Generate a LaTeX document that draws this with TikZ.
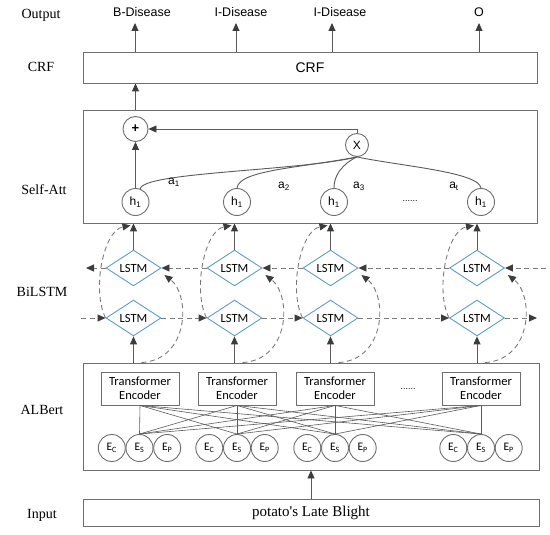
\documentclass[tikz,border=0pt]{standalone}
\usepackage{fontspec}
\setmainfont{Liberation Serif}
\newfontfamily\carl{Carlito}
\newfontfamily\lsans{Liberation Sans}
\newfontfamily\pserif{Liberation Serif}
\usetikzlibrary{arrows.meta,shapes.geometric,calc}
\definecolor{boxgray}{HTML}{6E6E6E}
\definecolor{linegray}{HTML}{5A5A5A}
\definecolor{tipgray}{HTML}{3C3C3C}
\definecolor{dashgray}{HTML}{7A7A7A}
\definecolor{lstmblue}{HTML}{5B9BD5}
\begin{document}
\begin{tikzpicture}[x=1pt,y=-1pt,
  box/.style={draw=boxgray, line width=0.9pt, inner sep=0pt},
  lbl/.style={font=\fontsize{14}{14}\selectfont, inner sep=0pt},
  outl/.style={font=\lsans\fontsize{12.5}{12.5}\selectfont, inner sep=0pt},
  arr/.style={draw=linegray, line width=0.9pt, -{Triangle[length=8pt,width=7pt,color=tipgray]}},
  lstm/.style={diamond, draw=lstmblue, line width=0.9pt, minimum width=55pt, minimum height=33pt, inner sep=0pt, font=\carl\fontsize{12.5}{12.5}\selectfont},
  hcirc/.style={circle, draw=boxgray, line width=0.9pt, minimum size=27pt, inner sep=0pt, font=\lsans\fontsize{12}{12}\selectfont},
  ecirc/.style={circle, draw=boxgray, line width=0.9pt, minimum size=27pt, inner sep=0pt, font=\carl\fontsize{11.5}{11.5}\selectfont},
  tebox/.style={box, minimum width=78pt, minimum height=33pt, align=center, font=\carl\fontsize{12.5}{14}\selectfont},
  dsh/.style={draw=dashgray, line width=0.9pt, dash pattern=on 5pt off 3.5pt, -{Triangle[length=8pt,width=7pt,color=tipgray]}},
  mesh/.style={draw=linegray, line width=0.6pt},
  acurve/.style={draw=linegray, line width=0.9pt},
  alab/.style={font=\lsans\fontsize{12}{12}\selectfont, inner sep=0pt},
  dotsl/.style={font=\lsans\fontsize{9}{9}\selectfont, inner sep=0pt}
]
\useasboundingbox (0,0) rectangle (550,535);

% left labels
\node[lbl] (lOut) at (41,15) {Output};
\node[lbl] (lCrf) at (41,67) {CRF};
\node[lbl] (lSa) at (44,190) {Self-Att};
\node[lbl] (lBi) at (42,292) {BiLSTM};
\node[lbl] (lAl) at (42,410) {ALBert};
\node[lbl] (lIn) at (42,515) {Input};

% outputs and CRF
\node[box, minimum width=454pt, minimum height=31pt, font=\lsans\fontsize{14}{14}\selectfont] (crf) at (310,67.5) {CRF};
\node[outl] (o1) at (142,12) {B-Disease};
\node[outl] (o2) at (241,12) {I-Disease};
\node[outl] (o3) at (340,12) {I-Disease};
\node[outl] (o4) at (479,12) {O};
\coordinate (t1) at (135,23);
\coordinate (t2) at (236,23);
\coordinate (t3) at (332,23);
\coordinate (t4) at (479,23);
\foreach \i in {1,...,4} { \draw[arr] (crf.north -| t\i) -- (t\i); }

% self attention
\node[box, minimum width=454pt, minimum height=113pt] (sa) at (310,166.5) {};
\node[hcirc, minimum size=25pt, font=\lsans\bfseries\fontsize{13}{13}\selectfont] (plus) at (135.5,129) {+};
\node[hcirc, minimum size=23pt] (xx) at (357,145) {X};
\node[hcirc] (h1) at (135.5,202) {h\textsubscript{1}};
\node[hcirc] (h2) at (237,202) {h\textsubscript{1}};
\node[hcirc] (h3) at (334,202) {h\textsubscript{1}};
\node[hcirc] (h4) at (481,202) {h\textsubscript{1}};
\node[dotsl] (sdots) at (410,201) {......};
\draw[arr] (sa.north -| plus) -- (crf.south -| plus);
\draw[arr] (h1.north) -- (plus.south);
\draw[arr] (xx.north) -- (xx.north |- plus.east) -- (plus.east);
\draw[acurve] (h1.70) .. controls (142,172) and (300,171) .. (xx.south);
\draw[acurve] (h2.north) .. controls (239,170) and (300,168) .. (xx.south);
\draw[acurve] (h3.north) .. controls (334,170) and (350,160) .. (xx.south);
\draw[acurve] (h4.north) .. controls (479,172) and (400,166) .. (xx.south);
\node[alab] (a1) at (174,182) {a\textsubscript{1}};
\node[alab] (a2) at (284,186) {a\textsubscript{2}};
\node[alab] (a3) at (359,186) {a\textsubscript{3}};
\node[alab] (a4) at (454,186) {a\textsubscript{t}};

% ALBert box
\node[box, minimum width=456pt, minimum height=107pt] (alb) at (311,416.5) {};

% BiLSTM
\foreach \i/\x in {1/133.5,2/234.5,3/330.5,4/477} {
  \node[lstm] (u\i) at (\x,268) {LSTM};
  \node[lstm] (l\i) at (\x,318) {LSTM};
}
\foreach \i in {1,...,4} {
  \draw[arr] (u\i.north) -- (u\i.north |- sa.south);
  \draw[arr] (l\i.south |- alb.north) -- (l\i.south);
  \draw[dsh] ($(l\i.south |- alb.north)+(8,0)$) .. controls +(48,-3) and +(26,20) .. ($(u\i.east)+(3,7)$);
  \draw[dsh] (l\i.west) .. controls +(-14,-28) and +(-27,5) .. ($(u\i.north |- sa.south)+(-3,2)$);
}
\coordinate (ur) at (546,268);
\coordinate (ul) at (86,268);
\coordinate (ll) at (81,318);
\coordinate (lr) at (537,318);
\draw[dsh] (ur) -- (u4.east);
\draw[dsh] (u4.west) -- (u3.east);
\draw[dsh] (u3.west) -- (u2.east);
\draw[dsh] (u2.west) -- (u1.east);
\draw[dsh] (u1.west) -- (ul);
\draw[dsh] (ll) -- (l1.west);
\draw[dsh] (l1.east) -- (l2.west);
\draw[dsh] (l2.east) -- (l3.west);
\draw[dsh] (l3.east) -- (l4.west);
\draw[dsh] (l4.east) -- (lr);

% Transformer encoders
\node[tebox] (te1) at (140,388.5) {Transformer\\Encoder};
\node[tebox] (te2) at (237,388.5) {Transformer\\Encoder};
\node[tebox] (te3) at (335,388.5) {Transformer\\Encoder};
\node[tebox] (te4) at (481,388.5) {Transformer\\Encoder};
\node[dotsl] (tdots) at (408,389) {......};

% embeddings
\foreach \i/\x in {1/139.5,2/237,3/335,4/481} {
  \node[ecirc] (ec\i) at (\x-27.7,448) {E\textsubscript{C}};
  \node[ecirc] (es\i) at (\x,448) {E\textsubscript{S}};
  \node[ecirc] (ep\i) at (\x+27.7,448) {E\textsubscript{P}};
}
\foreach \i in {1,...,4} { \foreach \j in {1,...,4} {
  \draw[mesh] (te\i.south) -- (es\j.north);
} }

% input
\node[box, minimum width=456pt, minimum height=27pt, font=\pserif\fontsize{15}{15}\selectfont] (inp) at (311,512.5) {potato's Late Blight};
\draw[arr] (inp.north) -- (alb.south);
\end{tikzpicture}
\end{document}
